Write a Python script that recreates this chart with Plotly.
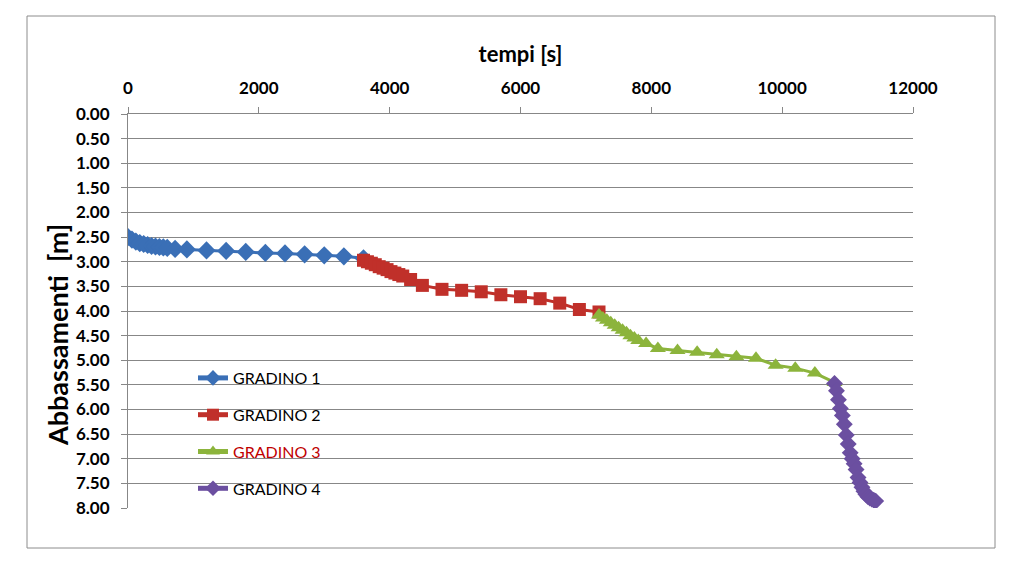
import plotly.graph_objects as go

# ---- data ----
t1 = [0, 60, 120, 180, 240, 300, 360, 420, 480, 540, 600, 720, 900, 1200, 1500, 1800,
      2100, 2400, 2700, 3000, 3300, 3600]
s1 = [2.50, 2.55, 2.59, 2.62, 2.64, 2.66, 2.68, 2.69, 2.70, 2.71, 2.72, 2.74, 2.75, 2.77,
      2.78, 2.80, 2.82, 2.83, 2.85, 2.87, 2.89, 2.93]

t2 = [3600, 3660, 3720, 3780, 3840, 3900, 3960, 4020, 4080, 4140, 4200, 4320, 4500, 4800,
      5100, 5400, 5700, 6000, 6300, 6600, 6900, 7200]
s2 = [2.97, 3.00, 3.03, 3.06, 3.10, 3.13, 3.16, 3.20, 3.23, 3.26, 3.29, 3.36, 3.48, 3.56,
      3.58, 3.61, 3.67, 3.71, 3.75, 3.84, 3.97, 4.02]

t3 = [7200, 7260, 7320, 7380, 7440, 7500, 7560, 7620, 7680, 7740, 7800, 7920, 8100, 8400,
      8700, 9000, 9300, 9600, 9900, 10200, 10500, 10800]
s3 = [4.08, 4.14, 4.19, 4.24, 4.29, 4.34, 4.39, 4.44, 4.50, 4.55, 4.60, 4.66, 4.76, 4.80,
      4.84, 4.89, 4.93, 4.96, 5.10, 5.16, 5.26, 5.45]

t4 = [10800, 10830, 10860, 10890, 10920, 10950, 10980, 11010, 11040, 11070, 11100, 11130,
      11160, 11190, 11220, 11250, 11280, 11310, 11340, 11370, 11400, 11430]
s4 = [5.47, 5.62, 5.80, 5.98, 6.12, 6.30, 6.52, 6.70, 6.88, 7.00, 7.10, 7.22, 7.38, 7.48,
      7.58, 7.66, 7.72, 7.77, 7.80, 7.82, 7.84, 7.86]

names = ["GRADINO 1", "GRADINO 2", "<span style='color:#C00000'>GRADINO 3</span>", "GRADINO 4"]
colors = ["#3A6FB6", "#C0302A", "#8CB43C", "#6B4FA0"]
symbols = ["diamond", "square", "triangle-up", "diamond"]
sizes = [14, 13, 14, 13]

x_ticks = [0, 2000, 4000, 6000, 8000, 10000, 12000]
y_ticks = [i * 0.5 for i in range(17)]

FONT = "Lato"

fig = go.Figure()
for i, (t, s) in enumerate([(t1, s1), (t2, s2), (t3, s3), (t4, s4)]):
    fig.add_trace(go.Scatter(
        x=t, y=s, mode="lines+markers", name=names[i], legendgroup=str(i),
        line=dict(color=colors[i], width=3),
        marker=dict(symbol=symbols[i], size=sizes[i], color=colors[i]),
    ))

L, R, T, B = 128, 111, 114, 67
W, H = 1024, 575
pw, ph = W - L - R, H - T - B

def px2paper_x(px):
    return (px - L) / pw

def px2paper_y(py):
    return (H - B - py) / ph

fig.update_layout(
    width=W, height=H,
    margin=dict(l=L, r=R, t=T, b=B),
    paper_bgcolor="white", plot_bgcolor="white",
    font=dict(family=FONT, color="#000000"),
    showlegend=True,
    legend=dict(
        x=px2paper_x(193), y=px2paper_y(361), xanchor="left", yanchor="top",
        font=dict(family=FONT, size=16, color="#000000"),
        tracegroupgap=13, bgcolor="rgba(0,0,0,0)", itemsizing="constant",
    ),
    xaxis=dict(
        side="top", range=[0, 12000], tickvals=x_ticks,
        ticktext=[str(v) for v in x_ticks],
        showgrid=False, zeroline=False,
        showline=True, linecolor="#878787", linewidth=1,
        ticks="outside", ticklen=6, tickcolor="#878787",
        tickfont=dict(family=FONT, size=17, color="#000000", weight="bold"),
        ticklabelstandoff=6,
        title=dict(text="<b>tempi [s]</b>", font=dict(family=FONT, size=22), standoff=8),
    ),
    yaxis=dict(
        range=[8, 0], tickvals=y_ticks,
        ticktext=["%.2f" % v for v in y_ticks],
        showgrid=True, gridcolor="#878787", gridwidth=1, zeroline=False,
        showline=True, linecolor="#878787", linewidth=1,
        ticks="outside", ticklen=6, tickcolor="#878787",
        tickfont=dict(family=FONT, size=17, color="#000000", weight="bold"),
        ticklabelstandoff=8,
    ),
    annotations=[dict(
        text="<b>Abbassamenti  [m]</b>", textangle=-90, showarrow=False,
        xref="paper", yref="paper", x=px2paper_x(57), y=px2paper_y(335),
        xanchor="center", yanchor="middle",
        font=dict(family=FONT, size=27, color="#000000"),
    )],
    shapes=[dict(
        type="rect", xref="paper", yref="paper",
        x0=px2paper_x(27), x1=px2paper_x(995), y0=px2paper_y(548), y1=px2paper_y(16),
        line=dict(color="#8C8C8C", width=1), fillcolor="rgba(0,0,0,0)", layer="below",
    )],
)

fig.write_html("out.html")
